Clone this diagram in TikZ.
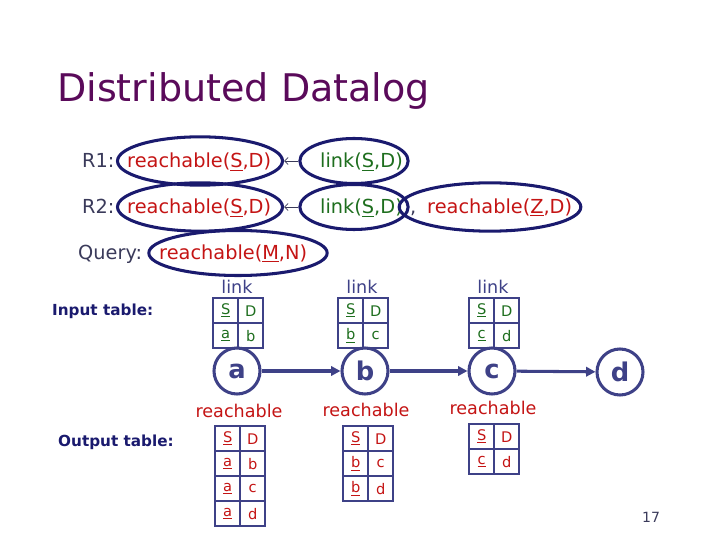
\documentclass[tikz,border=0pt]{standalone}
\usepackage{fontspec}
\setmainfont{DejaVu Sans}
\usetikzlibrary{arrows.meta,shapes.geometric}
\definecolor{navy}{HTML}{3E4187}
\definecolor{ell}{HTML}{1A1A6E}
\definecolor{rred}{HTML}{C41414}
\definecolor{ggreen}{HTML}{1E6E1E}
\definecolor{ttl}{HTML}{5A0A5A}
\definecolor{txt}{HTML}{3A3A5A}
\tikzset{
  px/.style={x=0.03cm,y=-0.03cm},
  rule/.style={font=\fontsize{16.5}{16.5}\selectfont, inner sep=0pt, anchor=base west},
  oval/.style={ellipse, draw=ell, line width=2.6pt, inner sep=0pt},
  cell/.style={draw=navy, line width=2pt, minimum width=0.75cm, minimum height=0.75cm, inner sep=0pt, font=\fontsize{12.5}{12.5}\selectfont},
  nd/.style={circle, draw=navy, line width=2.6pt, minimum size=1.38cm, inner sep=0pt, text=navy, font=\fontsize{22}{22}\selectfont\bfseries},
  edge/.style={draw=navy, line width=2.6pt, -{Triangle[length=8pt,width=8pt]}},
  lbl/.style={font=\fontsize{15}{15}\selectfont, inner sep=0pt},
  side/.style={font=\fontsize{13}{13}\selectfont\bfseries, text=ell, inner sep=0pt, anchor=west}
}
\begin{document}
\begin{tikzpicture}[px]
\useasboundingbox (0,0) rectangle (720,540);
\node[text=ttl, font=\fontsize{32.5}{32.5}\selectfont, anchor=base west, inner sep=0pt] (title) at (57,102) {Distributed Datalog};
% rules
\node[rule, text=txt] (r1) at (82,168) {R1:};
\node[oval, minimum width=4.95cm, minimum height=1.45cm] (e1) at (200,161) {};
\node[rule, text=rred] (r1h) at (127,168) {reachable(\underline{S},D)};
\node[oval, minimum width=3.25cm, minimum height=1.35cm] (e2) at (354,161) {};
\node[rule, text=ggreen] (r1b) at (320,168) {link(\underline{S},D)};
\draw[txt, line width=0.7pt, -{Straight Barb[length=3pt]}] (e2.west) -- (e1.east);

\node[rule, text=txt] (r2) at (82,214) {R2:};
\node[oval, minimum width=4.95cm, minimum height=1.45cm] (e3) at (200,207) {};
\node[rule, text=rred] (r2h) at (127,214) {reachable(\underline{S},D)};
\node[oval, minimum width=3.25cm, minimum height=1.35cm] (e4) at (354,207) {};
\node[rule, text=ggreen] (r2b) at (320,214) {link(\underline{S},D)};
\node[rule, text=txt] (comma) at (410,214) {,};
\node[oval, minimum width=5.45cm, minimum height=1.45cm] (e5) at (490,207) {};
\node[rule, text=rred] (r2c) at (427,214) {reachable(\underline{Z},D)};
\draw[txt, line width=0.7pt, -{Straight Barb[length=3pt]}] (e4.west) -- (e3.east);

\node[rule, text=txt] (q) at (78,260) {Query:};
\node[oval, minimum width=5.35cm, minimum height=1.35cm] (e6) at (238,253) {};
\node[rule, text=rred] (qh) at (159,260) {reachable(\underline{M},N)};

\node[side] (in) at (52,311) {Input table:};
\node[side] (out) at (58,442) {Output table:};

% link tables
\foreach \n/\x/\s/\d in {a/212/a/b, b/337/b/c, c/468/c/d}{
  \node[lbl, text=navy] (lk\n) at (\x+25,287) {link};
  \node[cell, text=ggreen, anchor=north west] (l\n1) at (\x,297) {\underline{S}};
  \node[cell, text=ggreen, anchor=north west] (l\n2) at (\x+25,297) {D};
  \node[cell, text=ggreen, anchor=north west] (l\n3) at (\x,322) {\underline{\s}};
  \node[cell, text=ggreen, anchor=north west] (l\n4) at (\x+25,322) {\d};
}
% nodes
\node[nd] (na) at (237,371) {a};
\node[nd] (nb) at (365,371) {b};
\node[nd] (nc) at (492,371) {c};
\node[nd] (nd) at (620,372) {d};
\draw[edge] (na) -- (nb);
\draw[edge] (nb) -- (nc);
\draw[edge] (nc) -- (nd);

% reachable tables
\node[lbl, text=rred] (ra) at (239,411) {reachable};
\node[lbl, text=rred] (rb) at (366,410) {reachable};
\node[lbl, text=rred] (rc) at (493,408) {reachable};
\foreach \n/\x/\y in {a/214/425, b/342/425, c/468/423}{
  \node[cell, text=rred, anchor=north west] (t\n h1) at (\x,\y) {\underline{S}};
  \node[cell, text=rred, anchor=north west] (t\n h2) at (\x+25,\y) {D};
}
\foreach \i/\v in {1/b,2/c,3/d}{
  \node[cell, text=rred, anchor=north west] (ta\i s) at (214,425+25*\i) {\underline{a}};
  \node[cell, text=rred, anchor=north west] (ta\i d) at (239,425+25*\i) {\v};
}
\foreach \i/\v in {1/c,2/d}{
  \node[cell, text=rred, anchor=north west] (tb\i s) at (342,425+25*\i) {\underline{b}};
  \node[cell, text=rred, anchor=north west] (tb\i d) at (367,425+25*\i) {\v};
}
\node[cell, text=rred, anchor=north west] (tc1s) at (468,448) {\underline{c}};
\node[cell, text=rred, anchor=north west] (tc1d) at (493,448) {d};
\node[font=\fontsize{12}{12}\selectfont, text=txt, inner sep=0pt] (pg) at (651,517) {17};
\end{tikzpicture}
\end{document}
